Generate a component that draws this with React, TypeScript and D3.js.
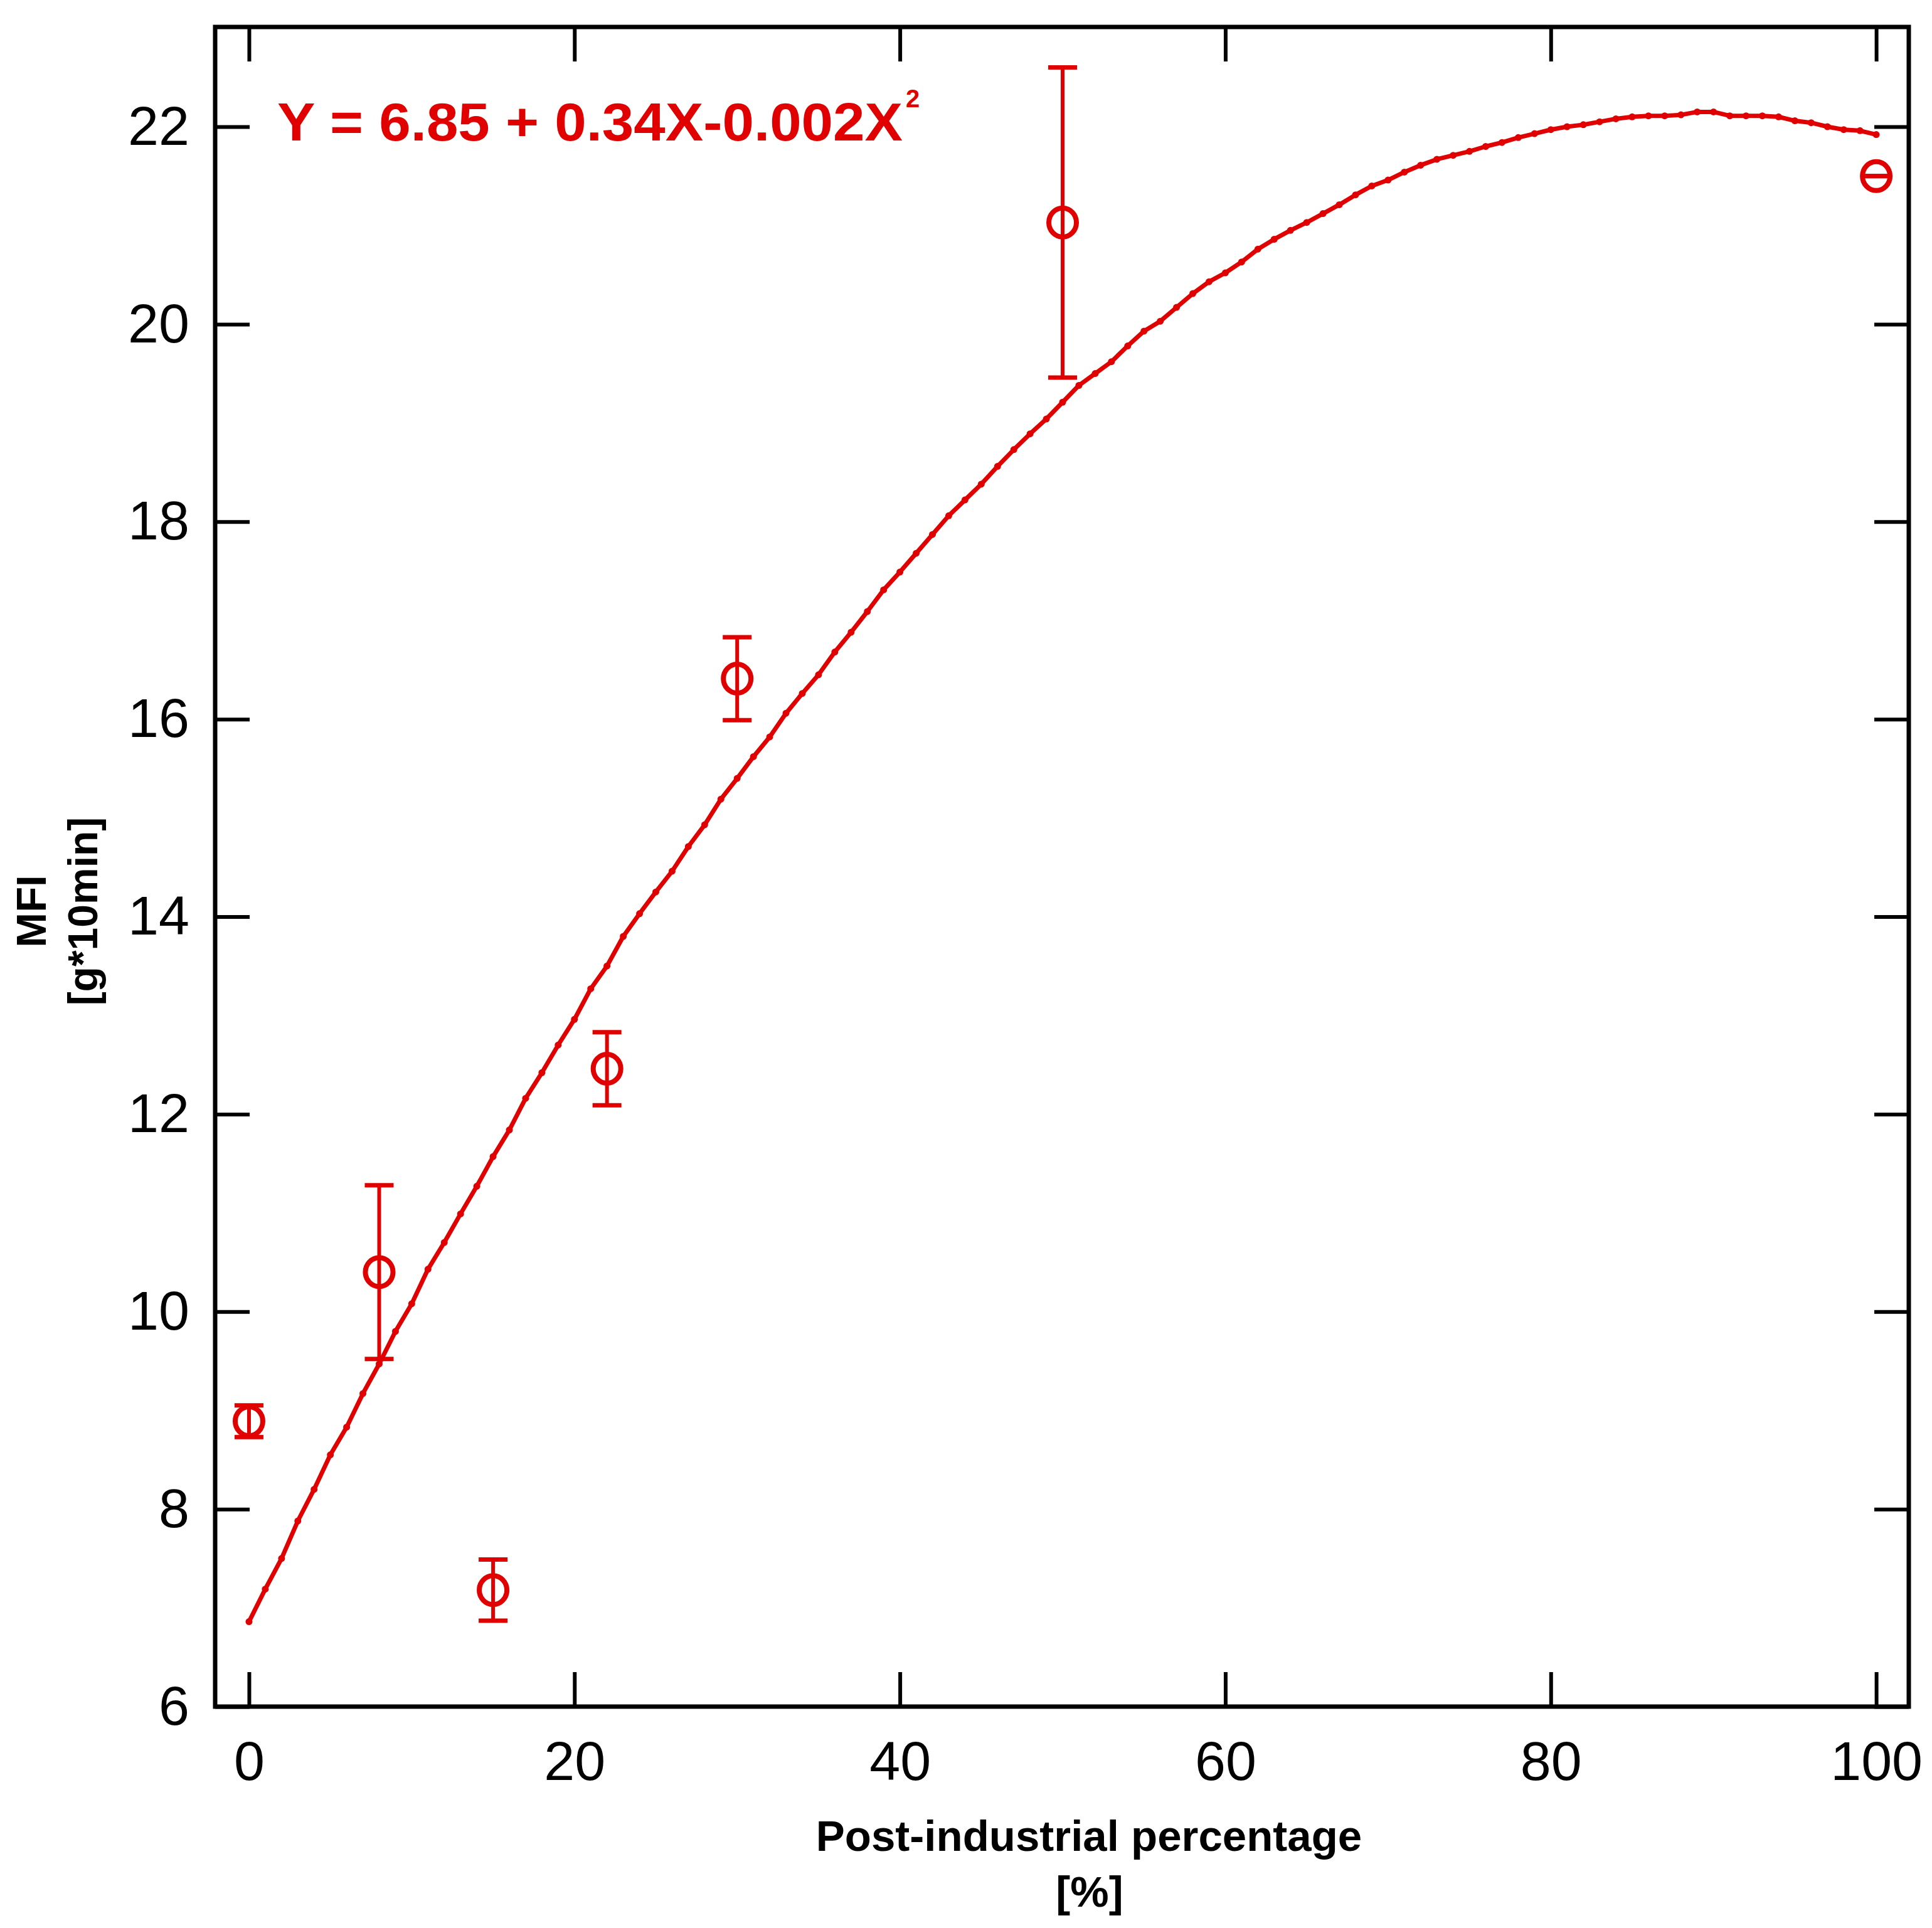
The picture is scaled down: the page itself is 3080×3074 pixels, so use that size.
import { useEffect, useRef } from 'react';
import * as d3 from 'd3';

// measured points (x = post-industrial %, y = MFI, err = half error bar)
const SAMPLE_X = [0, 8, 15, 22, 30, 50, 100];
const SAMPLE_Y = [8.89, 10.40, 7.18, 12.46, 16.41, 21.03, 21.50];
const SAMPLE_ERR = [0.16, 0.88, 0.31, 0.37, 0.42, 1.57, 0];

// fitted curve at each whole percent 0..100
const FIT_Y = [
  6.86, 7.19, 7.5, 7.88, 8.2, 8.55, 8.83, 9.17, 9.47, 9.8,
  10.08, 10.43, 10.7, 10.99, 11.27, 11.57, 11.84, 12.16, 12.42, 12.7,
  12.96, 13.27, 13.5, 13.8, 14.03, 14.25, 14.46, 14.71, 14.93, 15.19,
  15.4, 15.62, 15.82, 16.06, 16.26, 16.45, 16.68, 16.88, 17.09, 17.31,
  17.49, 17.68, 17.87, 18.06, 18.22, 18.38, 18.56, 18.73, 18.89, 19.04,
  19.21, 19.38, 19.5, 19.62, 19.78, 19.93, 20.03, 20.17, 20.31, 20.43,
  20.52, 20.63, 20.76, 20.86, 20.95, 21.03, 21.12, 21.21, 21.31, 21.4,
  21.46, 21.54, 21.61, 21.67, 21.71, 21.75, 21.8, 21.84, 21.89, 21.93,
  21.97, 22.0, 22.02, 22.05, 22.08, 22.1, 22.11, 22.11, 22.12, 22.15,
  22.15, 22.11, 22.11, 22.11, 22.1, 22.06, 22.04, 22.0, 21.97, 21.96,
  21.92,
];

const X_TICKS = [0, 20, 40, 60, 80, 100];
const Y_TICKS = [6, 8, 10, 12, 14, 16, 18, 20, 22];

const EQUATION = 'Y = 6.85 + 0.34X-0.002X';
const X_TITLE = ['Post-industrial percentage', '[%]'];
const Y_TITLE = ['MFI', '[g*10min]'];

const RED = '#e00000';
const FONT = '"Liberation Sans", Arial, sans-serif';

export default function App() {
  const ref = useRef<SVGSVGElement>(null);

  useEffect(() => {
    if (!ref.current) return;
    const svg = d3.select(ref.current);
    svg.selectAll('*').remove();

    const left = 343, right = 3043, top = 43, bottom = 2721;
    const x = d3.scaleLinear().domain([-2.08, 102.0]).range([left, right]);
    const y = d3.scaleLinear().domain([6, 23.01]).range([bottom, top]);

    const styleAxis = (g: d3.Selection<SVGGElement, unknown, null, undefined>) => {
      g.select('.domain').remove();
      g.selectAll('.tick line').attr('stroke', '#000').attr('stroke-width', 6);
      g.selectAll('.tick text')
        .attr('fill', '#000')
        .attr('font-family', FONT)
        .attr('font-size', 88);
    };

    // axes, ticks pointing inward on all four sides
    svg.append('g').attr('transform', `translate(0,${bottom})`)
      .call(d3.axisBottom(x).tickValues(X_TICKS).tickSize(-55).tickPadding(55).tickFormat(d3.format('d')))
      .call(styleAxis);
    svg.append('g').attr('transform', `translate(0,${top})`)
      .call(d3.axisTop(x).tickValues(X_TICKS).tickSize(-55).tickFormat(() => ''))
      .call(styleAxis);
    svg.append('g').attr('transform', `translate(${left},0)`)
      .call(d3.axisLeft(y).tickValues(Y_TICKS).tickSize(-55).tickPadding(41).tickFormat(d3.format('d')))
      .call(styleAxis);
    svg.append('g').attr('transform', `translate(${right},0)`)
      .call(d3.axisRight(y).tickValues(Y_TICKS).tickSize(-55).tickFormat(() => ''))
      .call(styleAxis);

    svg.selectAll('.tick text').filter(function () { return d3.select(this).text() === ''; }).remove();

    // frame
    svg.append('rect')
      .attr('x', left).attr('y', top)
      .attr('width', right - left).attr('height', bottom - top)
      .attr('fill', 'none').attr('stroke', '#000').attr('stroke-width', 7);

    // fitted curve
    const fit = FIT_Y.map((v, i) => [i, v] as [number, number]);
    const line = d3.line<[number, number]>().x(d => x(d[0])).y(d => y(d[1]));
    svg.append('path')
      .datum(fit)
      .attr('d', line)
      .attr('fill', 'none')
      .attr('stroke', RED)
      .attr('stroke-width', 7)
      .attr('stroke-linejoin', 'round');
    svg.append('g').selectAll('circle')
      .data(fit)
      .join('circle')
      .attr('cx', d => x(d[0]))
      .attr('cy', d => y(d[1]))
      .attr('r', 5.5)
      .attr('fill', RED);

    // measured points with error bars
    const pts = SAMPLE_X.map((v, i) => ({ x: v, y: SAMPLE_Y[i], e: SAMPLE_ERR[i] }));
    const pg = svg.append('g').attr('stroke', RED).attr('fill', 'none');
    pts.forEach(p => {
      const cx = x(p.x);
      const y0 = y(p.y - p.e), y1 = y(p.y + p.e);
      if (p.e > 0) pg.append('line').attr('x1', cx).attr('x2', cx).attr('y1', y0).attr('y2', y1).attr('stroke-width', 6);
      [y0, y1].forEach(yy => {
        pg.append('line').attr('x1', cx - 23).attr('x2', cx + 23).attr('y1', yy).attr('y2', yy).attr('stroke-width', 7);
      });
      pg.append('ellipse').attr('cx', cx).attr('cy', y(p.y)).attr('rx', 22).attr('ry', 23).attr('stroke-width', 8);
    });

    // equation
    svg.append('text')
      .attr('x', 442).attr('y', 224)
      .attr('font-family', FONT).attr('font-weight', 'bold').attr('font-size', 86)
      .attr('fill', RED)
      .attr('textLength', 997).attr('lengthAdjust', 'spacingAndGlyphs')
      .text(EQUATION);
    svg.append('text')
      .attr('x', 1444).attr('y', 171)
      .attr('font-family', FONT).attr('font-weight', 'bold').attr('font-size', 40)
      .attr('fill', RED)
      .text('2');

    // axis titles
    svg.append('text')
      .attr('x', 1736).attr('y', 2951)
      .attr('text-anchor', 'middle')
      .attr('font-family', FONT).attr('font-weight', 'bold').attr('font-size', 69)
      .text(X_TITLE[0]);
    svg.append('text')
      .attr('x', 1737).attr('y', 3040)
      .attr('text-anchor', 'middle')
      .attr('font-family', FONT).attr('font-weight', 'bold').attr('font-size', 69)
      .text(X_TITLE[1]);
    svg.append('text')
      .attr('transform', 'translate(73,1453) rotate(-90)')
      .attr('text-anchor', 'middle')
      .attr('font-family', FONT).attr('font-weight', 'bold').attr('font-size', 67)
      .text(Y_TITLE[0]);
    svg.append('text')
      .attr('transform', 'translate(155,1453) rotate(-90)')
      .attr('text-anchor', 'middle')
      .attr('font-family', FONT).attr('font-weight', 'bold').attr('font-size', 66)
      .text(Y_TITLE[1]);
  }, []);

  return (
    <svg
      ref={ref}
      width={3080}
      height={3074}
      style={{ position: 'absolute', left: 0, top: 0, background: '#fff' }}
    />
  );
}
